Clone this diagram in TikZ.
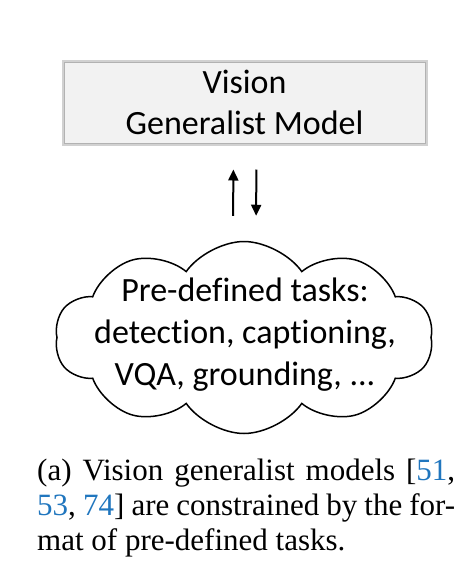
\documentclass[tikz,border=0pt]{standalone}
\usepackage{fontspec}
\setmainfont{Liberation Serif}
\newfontfamily\calib[Ligatures=NoCommon]{Carlito}
\usepackage{xcolor}
\usetikzlibrary{shapes.symbols,arrows.meta}
\definecolor{boxgray}{HTML}{F2F2F2}
\definecolor{citeblue}{RGB}{32,118,190}

\begin{document}
\begin{tikzpicture}[x=1pt,y=-1pt]
\tikzstyle{every node}+=[inner sep=0pt]
\tikzset{
  modelbox/.style={fill=boxgray, draw=black!30, line width=1pt,
    preaction={draw=black!18, line width=5pt},
    minimum width=361pt, minimum height=81pt, align=center,
    font=\calib\fontsize{34}{41}\selectfont},
  taskcloud/.style={cloud, cloud puffs=10, cloud puff arc=110, draw, line width=1.5pt,
    minimum width=378pt, minimum height=192pt, align=center,
    font=\calib\fontsize{34}{42}\selectfont},
  arr/.style={line width=2pt, -{Triangle[length=11pt,width=10pt]}},
  capline/.style={anchor=west, font=\fontsize{31}{35}\selectfont}
}
\useasboundingbox (0,0) rectangle (476,574);
% model and task cloud
\node [modelbox] (model) at (244.5,102.5) {Vision\\Generalist Model};
\node [taskcloud] (tasks) at (244,337.5) {};
\node (tasktext) at (245,335) [align=center, font=\calib\fontsize{34}{42}\selectfont]
  {Pre-defined tasks:\\detection, capt\kern0pt ioning,\\VQA, grounding, ...};
% the two arrows
\draw [arr, shorten <=25pt, shorten >=26pt] ([xshift=-11pt]tasks.north) -- ([xshift=-11pt]model.south);
\draw [arr, shorten <=26pt, shorten >=25pt] ([xshift=12pt]model.south) -- ([xshift=12pt]tasks.north);
% caption
\node [capline] (cap1) at (37,473) {\makebox[418pt][s]{(a) Vision generalist models [\textcolor{citeblue}{51},}};
\node [capline] (cap2) at (37,508) {\makebox[418pt][s]{\textcolor{citeblue}{53}, \textcolor{citeblue}{74}] are constrained by the for-}};
\node [capline] (cap3) at (37,543) {mat of pre-defined tasks.};
\end{tikzpicture}
\end{document}
